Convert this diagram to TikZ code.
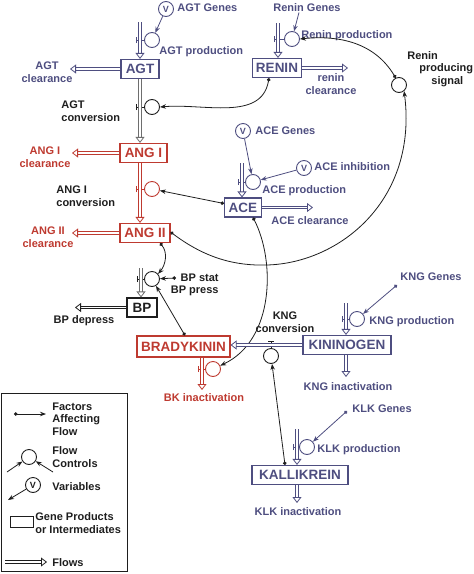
\documentclass[tikz,border=0pt]{standalone}
\usepackage{fontspec}
\setmainfont{Liberation Sans}
\usetikzlibrary{arrows.meta}

\definecolor{bluegray}{RGB}{78,78,128}
\definecolor{angred}{RGB}{190,58,48}
\definecolor{darkline}{RGB}{30,30,30}
\definecolor{pipegray}{RGB}{110,110,110}

\begin{document}
\begin{tikzpicture}[
                x=1pt,y=-1pt,
                line width=0.8pt,
                box/.style={draw,line width=1.1pt,inner sep=0pt,minimum height=19pt,font=\bfseries\fontsize{13.5}{14}\selectfont},
                ctl/.style={draw,circle,line width=0.9pt,minimum size=15pt,inner sep=0pt},
                var/.style={draw,circle,line width=0.9pt,minimum size=15pt,inner sep=0pt,font=\bfseries\fontsize{9}{9}\selectfont},
                lbl/.style={font=\bfseries\fontsize{11}{12.5}\selectfont,inner sep=0pt},
                flow/.style={double,double distance=1.6pt,line width=0.8pt,-{Triangle[open,length=6pt,width=9pt]}},
                valve/.style={line width=0.8pt,-{Bar[width=6pt]}},
                fac/.style={{Circle[length=3.5pt]}-{Stealth[length=6pt,width=4.5pt]},line width=0.8pt},
                gen/.style={-{Stealth[length=6pt,width=4.5pt]},line width=0.8pt}] %

\useasboundingbox (0,0) rectangle (474,574);

% AGT
                    \node[var,bluegray] (AGTGENES) at (166,9) {V};
                    \node[lbl,bluegray,anchor=west] (AGTGENESL) at (177,8) {AGT Genes};
                    \node[ctl,bluegray] (AGTPROD) at (152,40) {};
                    \node[lbl,bluegray,anchor=west] (AGTPRODL) at (159,52) {AGT production};
                    \node[box,bluegray,minimum width=38pt] (AGT) at (140,69) {AGT};
                    \coordinate (AGTSRC) at (140,22);
                    \draw[valve,bluegray] (AGTPROD.west) -- (136,40);
                    \draw[flow,bluegray] (AGTSRC) -- (AGT.north);
                    \draw[gen,bluegray] (AGTGENES) -- (AGTPROD);

                    \coordinate (AGTCLR) at (70,69);
                    \draw[flow,bluegray] (AGT.west) -- (AGTCLR);
                    \node[lbl,bluegray,align=center] (AGTCLRL) at (47,72) {AGT\\clearance};

% ANG I
                    \node[box,angred,minimum width=47pt] (ANGI) at (143.5,153) {ANG I};
                    \coordinate (ANGICLR) at (72,153);
                    \draw[flow,angred] (ANGI.west) -- (ANGICLR);
                    \node[lbl,angred,align=center] (ANGICLRL) at (45,157) {ANG I\\clearance};

% ANG II
                    \node[box,angred,minimum width=50pt] (ANGII) at (145,233) {ANG II};
                    \coordinate (ANGIICLR) at (72,233);
                    \draw[flow,angred] (ANGII.west) -- (ANGIICLR);
                    \node[lbl,angred,align=center] (ANGIICLRL) at (48,237) {ANG II\\clearance};

                    % AGT conversion
                    \node[ctl,darkline] (AGTCONV) at (152,107) {};
                    \draw[valve,darkline] (AGTCONV.west) -- (136,107);
                    \draw[flow,pipegray] (AGT.south) -- (AGT.south |- ANGI.north);
                    \node[lbl,darkline,align=left,anchor=west] (AGTCONVL) at (61,111) {AGT\\conversion};

                    % ANG I conversion
                    \node[ctl,angred] (ANGICONV) at (152,189) {};
                    \draw[valve,angred] (ANGICONV.west) -- (136,189);
                    \draw[flow,angred] (AGT.south |- ANGI.south) -- (AGT.south |- ANGII.north);
                    \node[lbl,darkline,align=left,anchor=west] (ANGICONVL) at (56,196) {ANG I\\conversion};

% RENIN
                    \node[lbl,bluegray] (RENINGENES) at (307,8) {Renin Genes};
                    \node[ctl,bluegray] (RENINPROD) at (292,39) {};
                    \node[lbl,bluegray,anchor=west] (RENINPRODL) at (301,36) {Renin production};
                    \node[box,bluegray,minimum width=49pt] (RENIN) at (277,68) {RENIN};
                    \coordinate (RENINSRC) at (278,23);
                    \draw[valve,bluegray] (RENINPROD.west) -- (274,39);
                    \draw[flow,bluegray] (RENINSRC) -- (RENINSRC |- RENIN.north);
                    \draw[gen,bluegray] ([xshift=-8pt]RENINGENES.south) -- (RENINPROD);

                    \coordinate (RENINCLR) at (348,68);
                    \draw[flow,bluegray] (RENIN.east) -- (RENINCLR);
                    \node[lbl,bluegray,align=center] (RENINCLRL) at (331,84) {renin\\clearance};

                    \draw[fac,darkline] ([xshift=-8pt]RENIN.south) to[out=-100,in=5] (AGTCONV.east);

                    % renin producing signal
                    \node[ctl,darkline] (RPS) at (399,85) {};
                    \node[lbl,darkline,align=left,anchor=west] (RPSL) at (407,69) {Renin\\\hspace*{12pt}producing\\\hspace*{24pt}signal};
                    \draw[fac,darkline] (RPS.115) to[out=121,in=6] (RENINPROD.east);

% ACE
                    \node[var,bluegray] (ACEGENES) at (243,131) {V};
                    \node[lbl,bluegray,anchor=west] (ACEGENESL) at (255,131) {ACE Genes};
                    \node[ctl,bluegray] (ACEPROD) at (253,182) {};
                    \node[var,bluegray] (ACEINH) at (304,168) {V};
                    \node[lbl,bluegray,anchor=west] (ACEINHL) at (314,167) {ACE inhibition};
                    \node[lbl,bluegray,anchor=west] (ACEPRODL) at (262,191) {ACE production};
                    \node[box,bluegray,minimum width=37pt] (ACE) at (243,207.5) {ACE};
                    \coordinate (ACESRC) at (242,163);
                    \draw[valve,bluegray] (ACEPROD.west) -- (238,182);
                    \draw[flow,bluegray] (ACESRC) -- (ACESRC |- ACE.north);
                    \draw[gen,bluegray] (ACEGENES) -- (ACEPROD);
                    \draw[gen,bluegray] (ACEINH) -- (ACEPROD);

                    \coordinate (ACECLR) at (313,207.5);
                    \draw[flow,bluegray] (ACE.east) -- (ACECLR);
                    \node[lbl,bluegray] (ACECLRL) at (310,221) {ACE clearance};

                    \draw[fac,darkline] ([yshift=4pt]ACE.west) -- (ANGICONV);

                    \draw[fac,darkline] ([yshift=1pt]ANGII.east) .. controls (205,258) and (235,266) .. (267,265)
                                        .. controls (340,263) and (418,200) .. (RPS.-50);

% BP
                    \node[ctl,darkline] (BPCTL) at (152,279) {};
                    \coordinate (BPSRC) at (141,268);
                    \node[box,darkline,minimum width=30pt] (BP) at (142,307.5) {BP};
                    \draw[valve,darkline] (BPCTL.west) -- (137,279);
                    \draw[flow,pipegray] (BPSRC) -- (BPSRC |- BP.north);
                    \draw[fac,darkline] ([xshift=15pt]ANGII.south) to[out=-50,in=50] (BPCTL.40);

                    \coordinate (BPSTAT) at (176,278);
                    \draw[fac,darkline] (BPSTAT) -- (BPCTL);
                    \node[lbl,darkline,align=right,anchor=east] (BPSTATL) at (219,285) {BP stat\\BP press};

                    \coordinate (BPDEP) at (75,307.5);
                    \draw[flow,darkline] (BP.west) -- (BPDEP);
                    \node[lbl,darkline] (BPDEPL) at (84,321) {BP depress};

% BRADYKININ
                    \node[box,angred,minimum width=93pt,minimum height=21pt] (BK) at (183.5,346.5) {BRADYKININ};
                    \draw[fac,darkline] ([xshift=1.5pt]BK.north) -- (BPCTL);

                    \node[ctl,angred] (BKINACT) at (213,369) {};
                    \coordinate (BKOUT) at (202,390);
                    \draw[valve,angred] (BKINACT.west) -- (198,369);
                    \draw[flow,angred] (BKOUT |- BK.south) -- (BKOUT);
                    \node[lbl,angred] (BKINACTL) at (204,398) {BK inactivation};

                    \draw[fac,darkline] ([xshift=10pt]ACE.south) .. controls (275,260) and (275,340) .. (BKINACT);

% KININOGEN
                    \node[lbl,bluegray,anchor=west] (KNGGENESL) at (400,277) {KNG Genes};
                    \coordinate (KNGGENES) at (397,285);
                    \node[ctl,bluegray] (KNGPROD) at (357,319) {};
                    \node[lbl,bluegray,anchor=west] (KNGPRODL) at (369,322) {KNG production};
                    \node[box,bluegray,minimum width=88pt] (KNG) at (347,345) {KININOGEN};
                    \coordinate (KNGSRC) at (346,303);
                    \draw[valve,bluegray] (KNGPROD.west) -- (342,319);
                    \draw[flow,bluegray] (KNGSRC) -- (KNGSRC |- KNG.north);
                    \draw[fac,bluegray] (KNGGENES) -- (KNGPROD);

                    \coordinate (KNGOUT) at (346,377);
                    \draw[flow,bluegray] (KNGSRC |- KNG.south) -- (KNGOUT);
                    \node[lbl,bluegray] (KNGINACTL) at (348,387) {KNG inactivation};

                    % KNG conversion
                    \node[ctl,darkline] (KNGCONV) at (271,356) {};
                    \draw[valve,darkline] (KNGCONV.north) -- (271,341);
                    \draw[flow,bluegray] (KNG.west) -- (KNG.west -| BK.east);
                    \node[lbl,darkline,align=center] (KNGCONVL) at (285,322) {KNG\\conversion};

% KALLIKREIN
                    \coordinate (KLKGENES) at (347,411);
                    \node[lbl,bluegray,anchor=west] (KLKGENESL) at (352,409) {KLK Genes};
                    \node[ctl,bluegray] (KLKPROD) at (307,447) {};
                    \node[lbl,bluegray,anchor=west] (KLKPRODL) at (317,450) {KLK production};
                    \node[box,bluegray,minimum width=96pt] (KLK) at (300,475) {KALLIKREIN};
                    \coordinate (KLKSRC) at (297,429);
                    \draw[valve,bluegray] (KLKPROD.west) -- (293,447);
                    \draw[flow,bluegray] (KLKSRC) -- (KLKSRC |- KLK.north);
                    \draw[fac,bluegray] (KLKGENES) -- (KLKPROD);

                    \coordinate (KLKOUT) at (297,503);
                    \draw[flow,bluegray] (KLKSRC |- KLK.south) -- (KLKOUT);
                    \node[lbl,bluegray] (KLKINACTL) at (298,512) {KLK inactivation};

                    \draw[fac,darkline] ([xshift=-15pt]KLK.north) -- (KNGCONV);

%%%%%%%%%%%%%%%%%%%%%%%%%%%%%%%%%%%%%%%%%%%%%%%%%%%%%%%%%%%%%%%%%%%%%%%%%%%%%%%%%%%%

% legend
                    \node[draw,darkline,line width=1.5pt,minimum width=126pt,minimum height=178pt,inner sep=0pt] (LEGEND) at (64.5,482.5) {};

                    \coordinate (LEGA1) at (14,414);
                    \coordinate (LEGA2) at (46,414);
                    \draw[fac,darkline] (LEGA1) -- (LEGA2);
                    \node[lbl,darkline,align=left,anchor=west] (LEGAL) at (52,419) {Factors\\Affecting\\Flow};

                    \node[ctl,darkline] (LEGCTL) at (29,457) {};
                    \coordinate (LEGC1) at (7,472);
                    \coordinate (LEGC2) at (53,472);
                    \draw[gen,darkline] (LEGC1) -- (LEGCTL);
                    \draw[gen,darkline] (LEGC2) -- (LEGCTL);
                    \node[lbl,darkline,align=left,anchor=west] (LEGCL) at (52,457) {Flow\\Controls};

                    \node[var,darkline] (LEGV) at (33,485) {V};
                    \coordinate (LEGV1) at (8,500);
                    \draw[gen,darkline] (LEGV) -- (LEGV1);
                    \node[lbl,darkline,anchor=west] (LEGVL) at (52,487) {Variables};

                    \node[draw,darkline,line width=1pt,minimum width=23pt,minimum height=11pt,inner sep=0pt] (LEGBOX) at (21.5,521.5) {};
                    \node[lbl,darkline,align=left,anchor=west] (LEGBOXL) at (35,523) {Gene Products\\or Intermediates};

                    \coordinate (LEGF1) at (5,562);
                    \coordinate (LEGF2) at (47,562);
                    \draw[flow,darkline] (LEGF1) -- (LEGF2);
                    \node[lbl,darkline,anchor=west] (LEGFL) at (52,563) {Flows};

\end{tikzpicture}
\end{document}
